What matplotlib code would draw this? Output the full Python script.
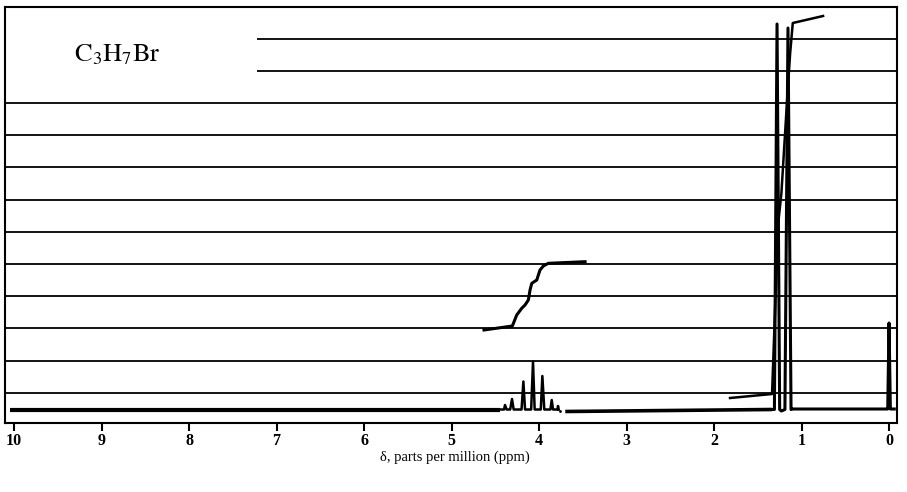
import numpy as np
import matplotlib
matplotlib.use("Agg")
from matplotlib import pyplot as plt

plt.rcParams['font.family'] = ['Liberation Serif', 'DejaVu Serif']
plt.rcParams['mathtext.fontset'] = 'stix'

# spectrum trace (ppm, height)
spec_ppm = [10.05, 4.45, 4.40, 4.389, 4.37, 4.33, 4.309, 4.29, 4.20, 4.179, 4.16,
            4.09, 4.069, 4.05, 3.98, 3.962, 3.94, 3.87, 3.855, 3.84, 3.79, 3.783, 3.775]
spec_int = [13.5, 13.5, 13.5, 18, 13.5, 13.5, 24, 13.5, 13.5, 41.5, 13.5,
            13.5, 61.3, 13.5, 13.5, 47, 13.5, 13.5, 23, 13.5, 13.5, 17, 13.5]

spec2_ppm = [3.70, 1.34, 1.31, 1.28, 1.25, 1.23, 1.19, 1.155, 1.12, 1.10,
             0.03, 0.015, 0.0, -0.015, -0.06]
spec2_int = [11.5, 13.5, 13.5, 399, 13.5, 12, 13.5, 395, 13.5, 14,
             14, 14, 100, 14, 14]

# integral traces
int1_ppm = [4.629, 4.305, 4.255, 4.198, 4.160, 4.122, 4.103, 4.083, 4.026,
            3.989, 3.951, 3.894, 3.474]
int1_val = [93, 97, 108, 114.7, 118, 123, 133, 139.7, 143, 153, 157, 159.7, 161.3]

int2_ppm = [1.817, 1.337, 1.30, 1.26, 1.23, 1.16, 1.13, 1.10, 0.754]
int2_val = [25, 29, 120, 205, 230, 330, 370, 400, 407]

ticks = [10, 9, 8, 7, 6, 5, 4, 3, 2, 1, 0]
grid_levels = [30.3 + 32.2 * k for k in range(12)]

fig = plt.figure(figsize=(9.07, 4.92), dpi=100)
ax = fig.add_axes([4.5 / 907, 69 / 492, 892.5 / 907, 416.5 / 492])
ax.set_xlim(10.109, -0.091)
ax.set_ylim(0, 416.5)

for i, g in enumerate(grid_levels):
    if i >= 10:
        ax.plot([7.22, -0.091], [g, g], color='black', lw=1.3, solid_capstyle='butt')
    else:
        ax.axhline(g, color='black', lw=1.3)

ax.plot(spec_ppm[:2], spec_int[:2], color='black', lw=3.0, solid_capstyle='butt')
ax.plot(spec_ppm[1:], spec_int[1:], color='black', lw=1.8)
ax.plot([3.76], [12], marker='.', color='black', ms=2)
ax.plot(spec2_ppm[:2], spec2_int[:2], color='black', lw=2.6, solid_capstyle='butt')
ax.plot(spec2_ppm[1:], spec2_int[1:], color='black', lw=2.2)

ax.plot(int1_ppm, int1_val, color='black', lw=2.2)
ax.plot(int2_ppm, int2_val, color='black', lw=1.8)

for s in ax.spines.values():
    s.set_linewidth(1.5)

ax.set_yticks([])
ax.set_xticks(ticks)
ax.set_xticklabels([str(t) for t in ticks], fontweight='bold', fontsize=11.5)
ax.tick_params(axis='x', direction='out', length=6, width=1.5, pad=1.5)

fig.text(455 / 907, 1 - 457 / 492, "δ, parts per million (ppm)", ha='center', va='center',
         fontsize=10.5)
fig.text(117 / 907, 1 - 55 / 492, r"$\mathrm{C_3H_7Br}$", ha='center', va='center',
         fontsize=19)

fig.savefig("out.png", dpi=100)
